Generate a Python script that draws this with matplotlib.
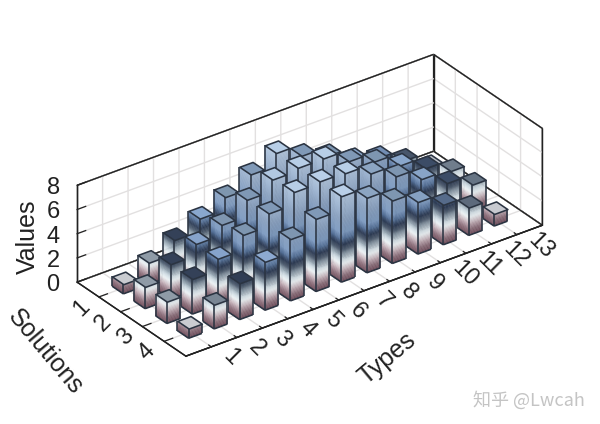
import matplotlib
matplotlib.use('Agg')
import matplotlib.pyplot as plt
import numpy as np
from matplotlib.colors import LinearSegmentedColormap
from mpl_toolkits.mplot3d.art3d import Poly3DCollection, Line3DCollection

plt.rcParams['font.family'] = ['Liberation Sans', 'DejaVu Sans']

types = [1, 2, 3, 4, 5, 6, 7, 8, 9, 10, 11, 12, 13]
solutions = [1, 2, 3, 4]
# values, one list per solution
sol1 = [0.8, 1.8, 2.9, 3.9, 4.9, 6.0, 7.0, 6.0, 5.2, 4.1, 3.5, 2.5, 1.2]
sol2 = [1.8, 2.9, 3.8, 4.6, 5.9, 6.8, 7.0, 7.0, 6.0, 5.2, 4.1, 3.1, 2.1]
sol3 = [1.8, 2.9, 3.8, 5.0, 6.0, 7.0, 7.1, 7.0, 6.2, 5.2, 4.2, 3.1, 2.2]
sol4 = [0.8, 2.0, 3.0, 4.0, 5.1, 6.0, 7.1, 6.2, 5.2, 4.3, 3.3, 2.3, 1.0]
values = [sol1, sol2, sol3, sol4]
zticks = [0, 2, 4, 6, 8]

# colour against height, sides
stops = [(0.0, '#6e4c5a'), (0.06, '#8f727e'), (0.12, '#c6b3bb'), (0.18, '#eef4f6'), (0.22, '#d4e0e7'),
         (0.28, '#93a3b0'), (0.33, '#4e5d70'), (0.38, '#2c3b54'), (0.44, '#56729a'), (0.5, '#7f9cc2'),
         (0.65, '#94abc9'), (0.8, '#a9bed8'), (1.0, '#c2d5e9')]
cmap = LinearSegmentedColormap.from_list('bars', stops)
# caps do not follow the sides exactly
cap_stops = [(0.0, '#d0d2d6'), (0.125, '#c8cad0'), (0.225, '#8e9aa6'), (0.31, '#4a586c'), (0.375, '#2e3b52'),
             (0.45, '#7f9cc4'), (0.5, '#8dabd2'), (0.58, '#7e95ae'), (0.75, '#7f98b6'), (0.86, '#b5cce6'),
             (1.0, '#c6daee')]
capmap = LinearSegmentedColormap.from_list('caps', cap_stops)
zmax = 8
w = 0.26
dz = 0.1
edge = '#2b3442'

fig = plt.figure(figsize=(6, 4.24), dpi=100)
ax = fig.add_axes([4/600, 1/424, 1, 1], projection='3d', proj_type='ortho', computed_zorder=False)
ax.view_init(elev=30, azim=-126.3)
ax.set_box_aspect((443, 184, 112), zoom=1.126)
ax.patch.set_alpha(0)

xlim = (0, 14)
ylim = (5, 0)

# box frame, the grid at z=8 and z=0 would hide the pane edges otherwise
x0, x1 = xlim
yf, yb = ylim
frame = [[(x0, yb, zmax), (x1, yb, zmax)], [(x1, yb, zmax), (x1, yf, zmax)],
         [(x0, yb, 0), (x0, yb, zmax)], [(x1, yb, 0), (x1, yb, zmax)], [(x1, yf, 0), (x1, yf, zmax)],
         [(x0, yb, 0), (x1, yb, 0)], [(x1, yb, 0), (x1, yf, 0)],
         [(x0, yb, 0), (x0, yf, 0)], [(x0, yf, 0), (x1, yf, 0)]]
fr = Line3DCollection(frame, colors='#222222', linewidths=1.0)
fr.set_zorder(1)
fr.set_clip_on(False)
ax.add_collection3d(fr)

order = 10
for j, row in zip(solutions, values):
    for i, h in reversed(list(zip(types, row))):
        lev = np.arange(0, h, dz)
        polys = []
        cols = []
        for z0 in lev:
            z1 = min(z0 + dz, h)
            c = np.array(cmap(z0 / zmax))
            # left face
            polys.append([(i-w, j-w, z0), (i-w, j+w, z0), (i-w, j+w, z1), (i-w, j-w, z1)])
            cols.append(c)
            # right face a bit darker
            polys.append([(i-w, j+w, z0), (i+w, j+w, z0), (i+w, j+w, z1), (i-w, j+w, z1)])
            cols.append(c * [0.95, 0.95, 0.95, 1])
        sides = Poly3DCollection(polys, facecolors=cols, edgecolors=cols, linewidths=0.3)
        sides.set_zorder(order)
        ax.add_collection3d(sides)
        top = Poly3DCollection([[(i-w, j-w, h), (i+w, j-w, h), (i+w, j+w, h), (i-w, j+w, h)]],
                               facecolors=[capmap(h / zmax)], edgecolors=edge, linewidths=1.15)
        top.set_zorder(order + 1)
        ax.add_collection3d(top)
        lines = [[(i-w, j-w, 0), (i-w, j-w, h)], [(i-w, j+w, 0), (i-w, j+w, h)], [(i+w, j+w, 0), (i+w, j+w, h)],
                 [(i-w, j-w, 0), (i-w, j+w, 0)], [(i-w, j+w, 0), (i+w, j+w, 0)]]
        lc = Line3DCollection(lines, colors=edge, linewidths=1.15)
        lc.set_zorder(order + 2)
        ax.add_collection3d(lc)
        order += 3

ax.set_xlim(*xlim)
ax.set_ylim(*ylim)
ax.set_zlim(0, zmax)
ax.set_xticks(types)
ax.set_yticks(solutions)
ax.set_zticks(zticks)

for axis in (ax.xaxis, ax.yaxis, ax.zaxis):
    axis.set_pane_color((1, 1, 1, 1))
    axis.pane.set_edgecolor('#222222')
    axis.line.set_color('#222222')
    axis.line.set_linewidth(1.0)
    axis._axinfo['grid'].update(color='#e2e0e0', linewidth=1.0)
    axis._axinfo['tick'].update(inward_factor=0.0, outward_factor=0.3, linewidth={True: 0.9, False: 0.5})

ax.tick_params(axis='x', labelsize=17, labelrotation=-45, pad=2.3, colors='#222222')
ax.tick_params(axis='y', labelsize=17, labelrotation=45, pad=-0.3, colors='#222222')
ax.tick_params(axis='z', labelsize=17, pad=0.2, colors='#222222')
for t in ax.get_xticklabels():
    t.set_ha('left')
    t.set_va('center')
for t in ax.get_yticklabels():
    t.set_va('center')
for t in ax.get_zticklabels():
    t.set_va('center')

fig.text(387/600, 1 - 358/424, 'Types', fontsize=18, rotation=40, color='#222222', ha='center', va='center')
fig.text(45/600, 1 - 352/424, 'Solutions', fontsize=18, rotation=-50, color='#222222', ha='center', va='center')
fig.text(28/600, 1 - 237/424, 'Values', fontsize=18, rotation=90, color='#222222', ha='center', va='center')

fig.text(0.975, 0.055, '知乎 @Lwcah', fontsize=13, color='#c4c4c4', ha='right', va='center',
         family=['Noto Sans CJK SC', 'DejaVu Sans'])

fig.savefig('out.png', dpi=100)
